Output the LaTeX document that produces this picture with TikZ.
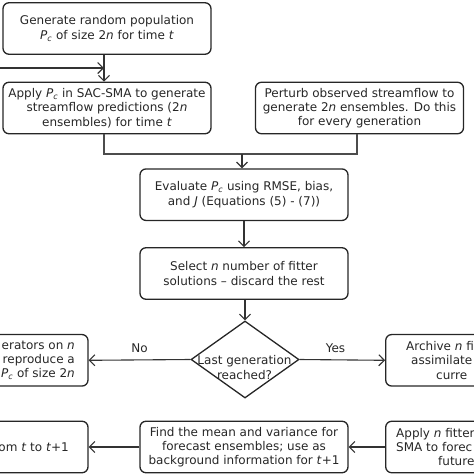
\documentclass[tikz,border=0pt]{standalone}
\usepackage{fontspec}
\setmainfont{DejaVu Sans}
\usetikzlibrary{arrows.meta, shapes.geometric}

\newcommand{\Pc}{\textit{P}\textsubscript{\textit{c}}}

\begin{document}
\begin{tikzpicture}[x=1pt, y=-1pt,
    box/.style={draw=black!85, line width=1.3pt, rounded corners=6pt, minimum width=208pt, minimum height=51.5pt, inner sep=0pt, align=center},
    arr/.style={draw=black!80, line width=1.1pt, -{Straight Barb[length=5.5pt, width=11pt]}},
    every node/.style={font=\fontsize{12}{14.3}\selectfont, text=black!85}]
			\useasboundingbox (0,0) rectangle (474,474);
			\clip (0,0) rectangle (474,474);

			% Top of the loop
			\node[box] (gen) at (107, 28.5) {Generate random population\\\Pc{} of size 2\textit{n} for time \textit{t}};
			\node[box] (apply) at (107, 108) {Apply \Pc{} in SAC-SMA to generate\\streamflow predictions (2\textit{n}\\ensembles) for time \textit{t}};
			\node[box] (perturb) at (359.5, 108) {Perturb observed streamflow to\\generate 2\textit{n} ensembles. Do this\\for every generation};

			\node[box] (eval) at (244, 194.7) {Evaluate \Pc{} using RMSE, bias,\\and \textit{J} (Equations (5) - (7))};
			\node[box] (select) at (244, 273.5) {Select \textit{n} number of fitter\\solutions -- discard the rest};

			% Decision
			\node[draw=black!85, line width=1.3pt, diamond, inner sep=0pt, minimum width=108pt, minimum height=77pt] (last) at (245, 359.5) {};
			\node[align=center, inner sep=0pt] (lastq) at (244.5, 367.5) {Last generation\\reached?};

			% Boxes cut by the frame
			\node[box] (genop) at (-16, 360.3) {};
			\node[anchor=east, align=right, inner sep=0pt] (genoptext) at (75, 360.3) {erators on \textit{n}\\reproduce a\\\Pc{} of size 2\textit{n}};
			\node[box] (archive) at (489.7, 360.3) {};
			\node[anchor=west, align=left, inner sep=0pt] (archivetext) at (406, 360.3) {Archive \textit{n} fi\\\hspace*{5pt}assimilate\\\hspace*{30pt}curre};

			\node[box] (shift) at (-16, 447) {};
			\node[anchor=east, inner sep=0pt] (shifttext) at (69, 447) {om \textit{t} to \textit{t}+1};
			\node[box] (stats) at (244, 447) {Find the mean and variance for\\forecast ensembles; use as\\background information for \textit{t}+1};
			\node[box] (forecast) at (489.7, 447) {};
			\node[anchor=west, align=left, inner sep=0pt] (forecasttext) at (396, 447) {Apply \textit{n} fitter\\SMA to forec\\\hspace*{42pt}future};

			% Draw the arrows
			\coordinate (merge) at (104, 68);
			\coordinate (loop) at (-5, 68);
			\coordinate (join) at (242, 154);
			\draw[arr] (gen.south -| merge) -- (apply.north -| merge);
			\draw[arr] (loop) -- (merge);

			\draw[draw=black!70, line width=1.1pt] (apply.south -| merge) |- (join) -| ([xshift=-2.5pt]perturb.south);
			\draw[arr] (join) -- (join |- eval.north);

			\draw[arr] (eval) -- (select);
			\draw[arr] (select.south -| last) -- (last.north);

			\draw[arr] (last.west) -- (genop.east) node[midway, above=3pt] {No};
			\draw[arr] (last.east) -- (archive.west) node[pos=0.42, above=3pt] {Yes};

			\draw[arr] (forecast) -- (stats);
			\draw[arr] (stats) -- (shift);

		\end{tikzpicture}
\end{document}
